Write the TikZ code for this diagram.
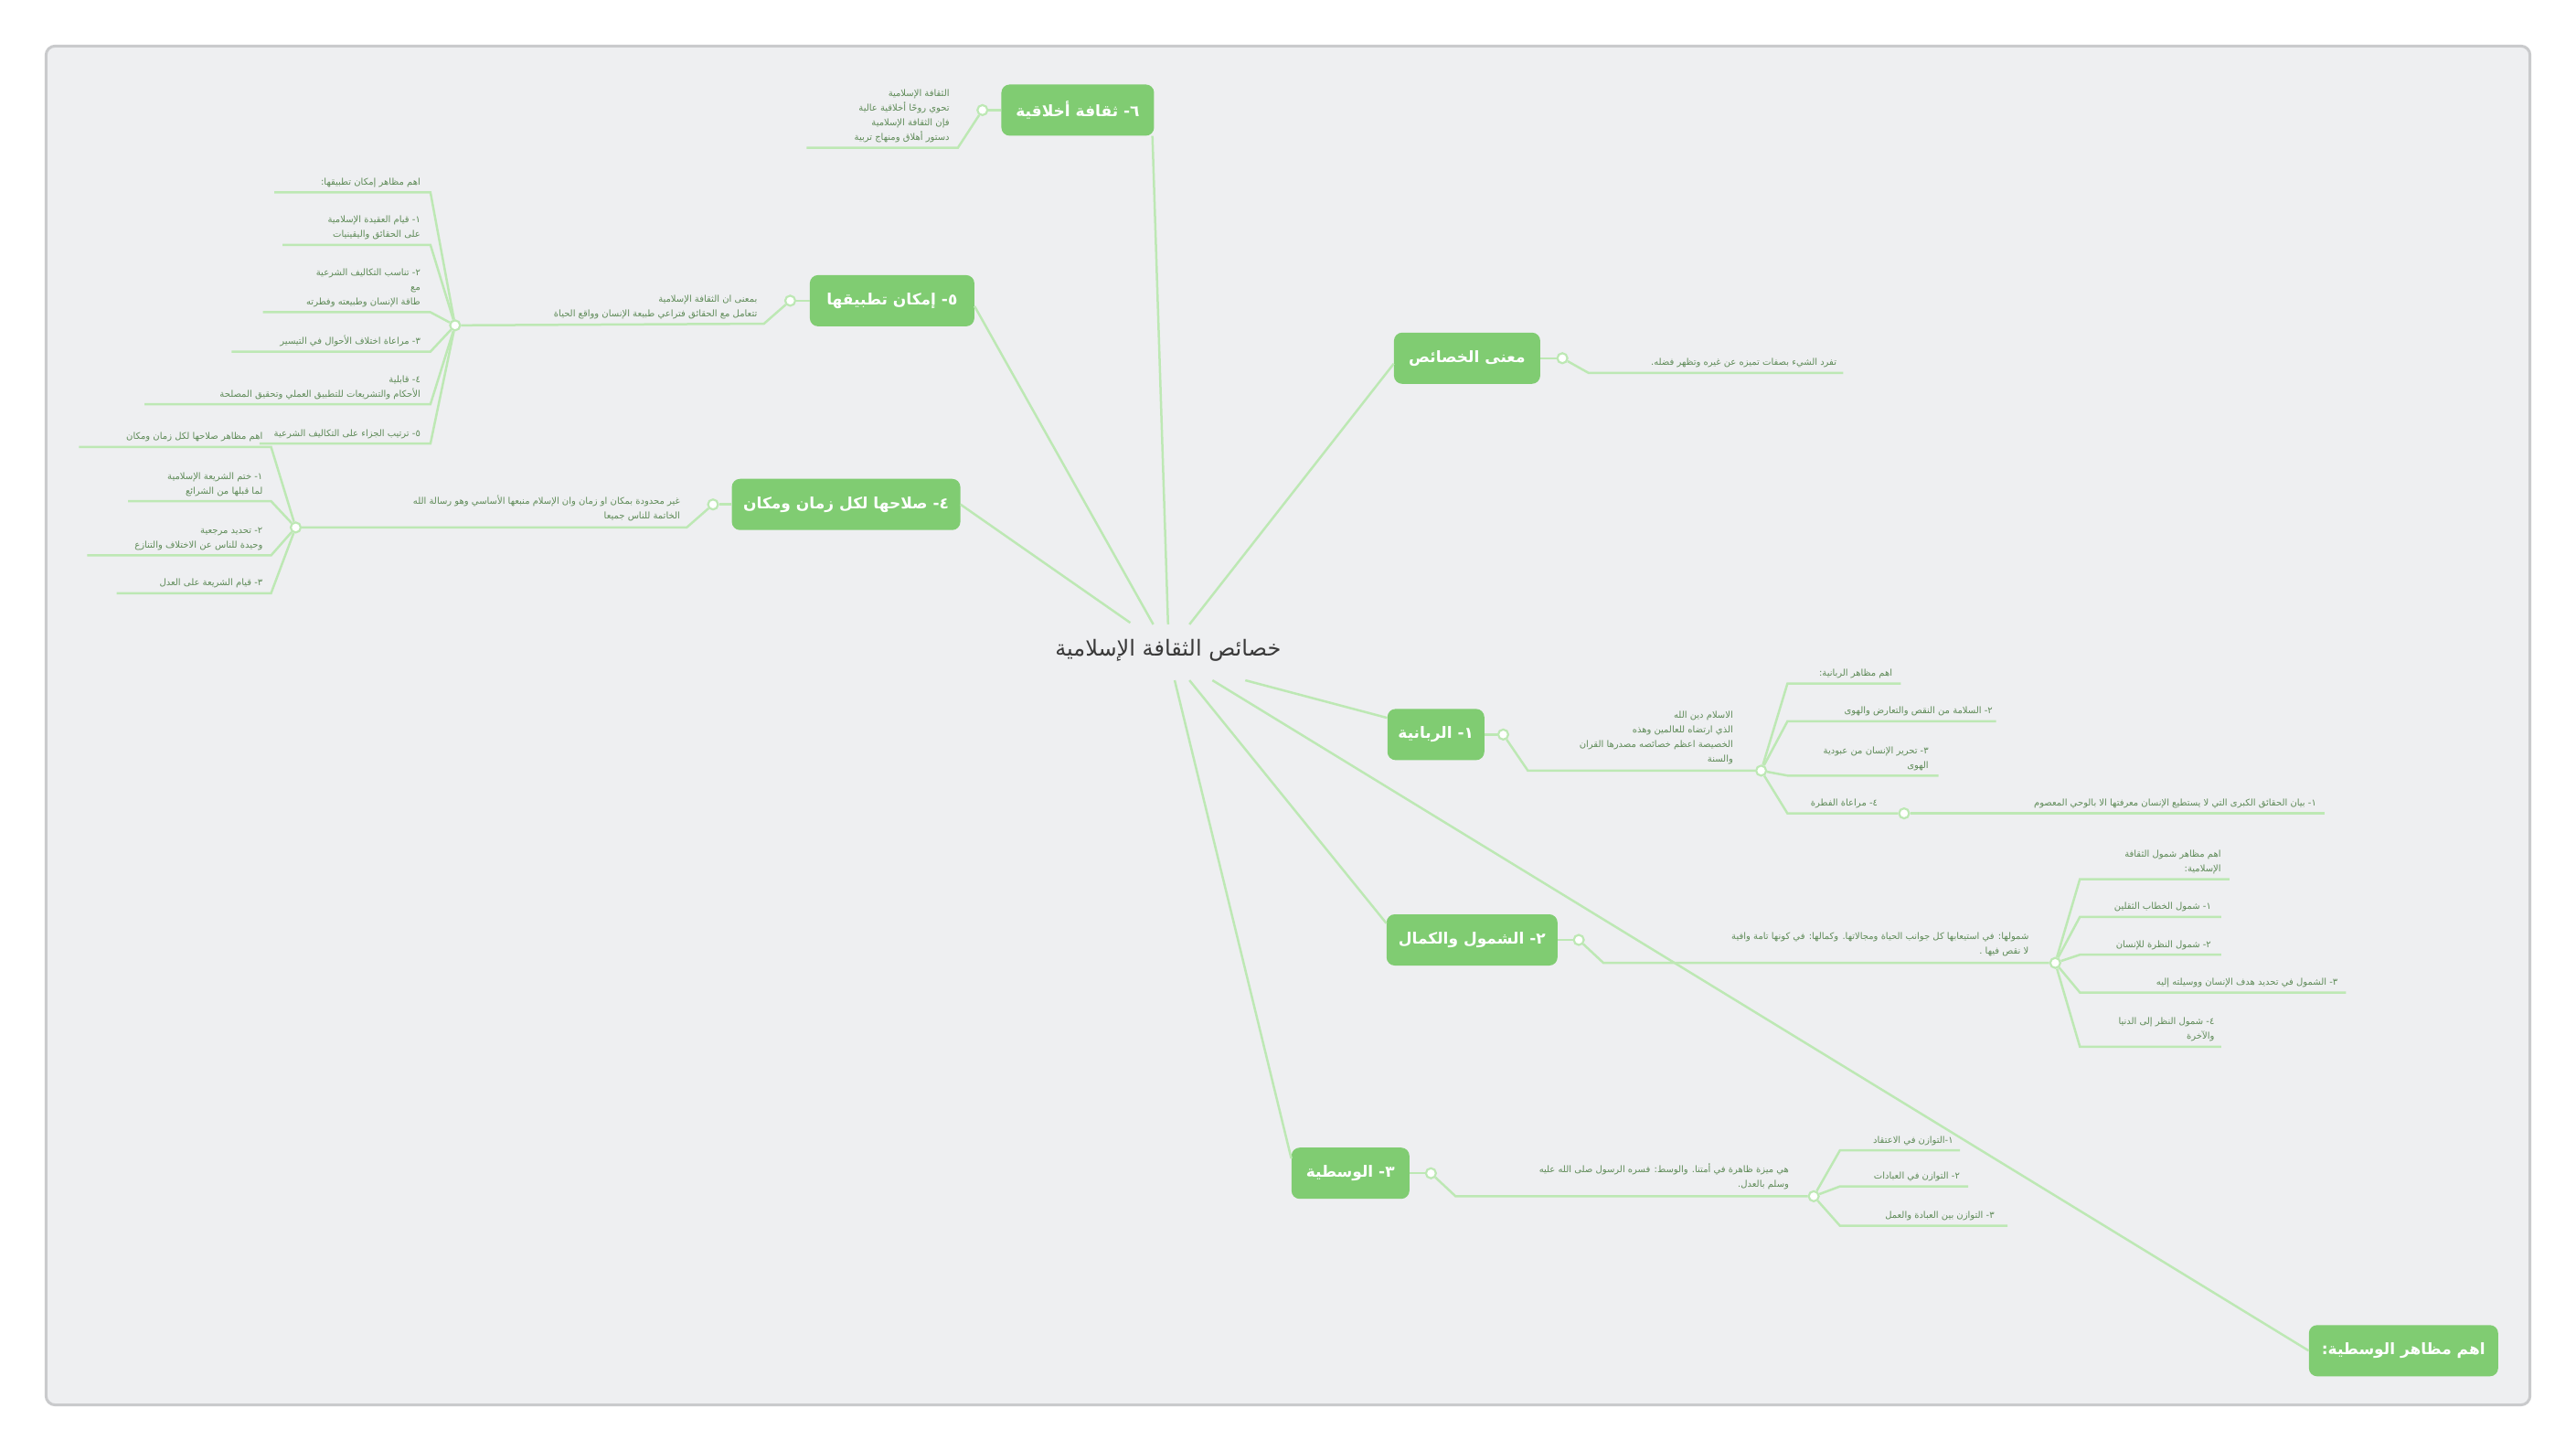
\documentclass[tikz,border=0pt]{standalone}
\usepackage{fontspec}
\TeXXeTstate=1
\newfontfamily\arabicfont[Script=Arabic]{DejaVu Sans}
\newcommand\ar[1]{{\arabicfont\beginR #1\endR}}
\definecolor{bg}{HTML}{EEEFF1}
\definecolor{frame}{HTML}{C9CACC}
\definecolor{boxg}{HTML}{80CC72}
\definecolor{lineg}{HTML}{BDE8B4}
\definecolor{txtg}{HTML}{5F8B58}
\definecolor{titlec}{HTML}{3A3A3A}
\tikzset{
  topic/.style={rounded corners=9pt, fill=boxg, text=white, minimum height=56pt, inner sep=0pt, font=\fontsize{17}{20}\selectfont\bfseries},
  small/.style={inner sep=0pt, align=right, text=txtg, font=\fontsize{10}{16}\selectfont},
  dot/.style={circle, draw=lineg, fill=white, line width=2.2pt, minimum size=11pt, inner sep=0pt},
  conn/.style={draw=lineg, line width=2.5pt},
}
\begin{document}
\begin{tikzpicture}[x=1.797pt,y=-1.797pt]
\useasboundingbox (0,0) rectangle (1568,883);
\fill[white] (0,0) rectangle (1568,883);
\draw[frame, fill=bg, line width=3pt, rounded corners=10pt] (28,28) rectangle (1540,855);

% title
\node[text=titlec, font=\fontsize{24}{28}\selectfont] (title) at (711,396) {\ar{خصائص الثقافة الإسلامية}};

% topic boxes
\node[topic, minimum width=167pt] (b6) at (656,67) {\ar{٦- ثقافة أخلاقية}};
\node[topic, minimum width=180pt] (b5) at (543,183) {\ar{٥- إمكان تطبيقها}};
\node[topic, minimum width=250pt] (b4) at (515,307) {\ar{٤- صلاحها لكل زمان ومكان}};
\node[topic, minimum width=160pt] (bm) at (893,218) {\ar{معنى الخصائص}};
\node[topic, minimum width=106pt] (b1) at (874,447) {\ar{١- الربانية}};
\node[topic, minimum width=187pt] (b2) at (896,572) {\ar{٢- الشمول والكمال}};
\node[topic, minimum width=129pt] (b3) at (822,714) {\ar{٣- الوسطية}};
\node[topic, minimum width=207pt] (bw) at (1463,822) {\ar{اهم مظاهر الوسطية:}};

% center connectors
\coordinate (c6) at (711,380);
\coordinate (c5) at (702,380);
\coordinate (c4) at (688,379);
\coordinate (cm) at (724,380);
\coordinate (c1) at (758,414);
\coordinate (c2) at (724,414);
\coordinate (c3) at (715,414);
\coordinate (cw) at (738,414);
\draw[conn] (c6) -- ([xshift=-2pt]b6.south east);
\draw[conn] (c5) -- ([yshift=-6pt]b5.east);
\draw[conn] (c4) -- (b4.east);
\draw[conn] (cm) -- ([yshift=-6pt]bm.west);
\draw[conn] (c1) -- ([yshift=-10pt]b1.north west);
\draw[conn] (c2) -- ([yshift=-10pt]b2.north west);
\draw[conn] (c3) -- ([yshift=-12pt]b3.north west);
\draw[conn] (cw) -- (bw.west);

% ===== group 6
\node[dot] (d6) at (598,67) {};
\draw[conn] (b6.west) -- (d6);
\draw[conn] (d6) -- (583,90) -- (491,90);
\node[small, anchor=south east] (t6) at (578,87) {\ar{الثقافة الإسلامية}\\\ar{تحوي روحًا أخلاقية عالية}\\\ar{فإن الثقافة الإسلامية}\\\ar{دستور أهلاق ومنهاج تربية}};

% ===== group 5
\node[dot] (d5) at (481,183) {};
\node[dot] (h5) at (277,198) {};
\draw[conn] (b5.west) -- (d5);
\draw[conn] (d5) -- (465,197) -- (h5);
\node[small, anchor=south east] (s5) at (461,194) {\ar{بمعنى ان الثقافة الإسلامية}\\\ar{تتعامل مع الحقائق فتراعي طبيعة الإنسان وواقع الحياة}};
\draw[conn] (h5) -- (262,117) -- (167,117);
\node[small, anchor=south east] (i50) at (256,114) {\ar{اهم مظاهر إمكان تطبيقها:}};
\draw[conn] (h5) -- (262,149) -- (172,149);
\node[small, anchor=south east] (i51) at (256,146) {\ar{١- قيام العقيدة الإسلامية}\\\ar{على الحقائق واليقينيات}};
\draw[conn] (h5) -- (262,190) -- (160,190);
\node[small, anchor=south east] (i52) at (256,187) {\ar{٢- تناسب التكاليف الشرعية}\\\ar{مع}\\\ar{طاقة الإنسان وطبيعته وفطرته}};
\draw[conn] (h5) -- (262,214) -- (141,214);
\node[small, anchor=south east] (i53) at (256,211) {\ar{٣- مراعاة اختلاف الأحوال في التيسير}};
\draw[conn] (h5) -- (262,246) -- (88,246);
\node[small, anchor=south east] (i54) at (256,243) {\ar{٤- قابلية}\\\ar{الأحكام والتشريعات للتطبيق العملي وتحقيق المصلحة}};
\draw[conn] (h5) -- (262,270) -- (158,270);
\node[small, anchor=south east] (i55) at (256,267) {\ar{٥- ترتيب الجزاء على التكاليف الشرعية}};

% ===== group 4
\node[dot] (d4) at (434,307) {};
\node[dot] (h4) at (180,321) {};
\draw[conn] (b4.west) -- (d4);
\draw[conn] (d4) -- (418,321) -- (h4);
\node[small, anchor=south east] (s4) at (414,317) {\ar{غير محدودة بمكان او زمان وان الإسلام منبعها الأساسي وهو رسالة الله}\\\ar{الخاتمة للناس جميعا}};
\draw[conn] (h4) -- (165,272) -- (48,272);
\node[small, anchor=south east] (i40) at (160,269) {\ar{اهم مظاهر صلاحها لكل زمان ومكان}};
\draw[conn] (h4) -- (165,305) -- (78,305);
\node[small, anchor=south east] (i41) at (160,302) {\ar{١- ختم الشريعة الإسلامية}\\\ar{لما قبلها من الشرائع}};
\draw[conn] (h4) -- (165,338) -- (53,338);
\node[small, anchor=south east] (i42) at (160,335) {\ar{٢- تحديد مرجعية}\\\ar{وحيدة للناس عن الاختلاف والتنازع}};
\draw[conn] (h4) -- (165,361) -- (71,361);
\node[small, anchor=south east] (i43) at (160,358) {\ar{٣- قيام الشريعة على العدل}};

% ===== group meaning
\node[dot] (dm) at (951,218) {};
\draw[conn] (bm.east) -- (dm);
\draw[conn] (dm) -- (967,227) -- (1122,227);
\node[small, anchor=south east] (sm) at (1118,224) {\ar{تفرد الشيء بصفات تميزه عن غيره وتظهر فضله.}};

% ===== group 1
\node[dot] (d1) at (915,447) {};
\node[dot] (h1) at (1072,469) {};
\draw[conn] (b1.east) -- (d1);
\draw[conn] (d1) -- (930,469) -- (h1);
\node[small, anchor=south east] (s1) at (1055,465) {\ar{الاسلام دين الله}\\\ar{الذي ارتضاه للعالمين وهذه}\\\ar{الخصيصة اعظم خصائصه مصدرها القران}\\\ar{والسنة}};
\draw[conn] (h1) -- (1088,416) -- (1157,416);
\node[small, anchor=south east] (i10) at (1152,413) {\ar{اهم مظاهر الربانية:}};
\draw[conn] (h1) -- (1088,439) -- (1215,439);
\node[small, anchor=south east] (i12) at (1213,436) {\ar{٢- السلامة من النقص والتعارض والهوى}};
\draw[conn] (h1) -- (1088,472) -- (1180,472);
\node[small, anchor=south east] (i13) at (1174,469) {\ar{٣- تحرير الإنسان من عبودية}\\\ar{الهوى}};
\node[dot] (d14) at (1159,495) {};
\draw[conn] (h1) -- (1088,495) -- (d14);
\draw[conn] (d14) -- (1415,495);
\node[small, anchor=south east] (i14) at (1143,492) {\ar{٤- مراعاة الفطرة}};
\node[small, anchor=south east] (i11) at (1410,492) {\ar{١- بيان الحقائق الكبرى التي لا يستطيع الإنسان معرفتها الا بالوحي المعصوم}};

% ===== group 2
\node[dot] (d2) at (961,572) {};
\node[dot] (h2) at (1251,586) {};
\draw[conn] (b2.east) -- (d2);
\draw[conn] (d2) -- (976,586) -- (h2);
\node[small, anchor=south east] (s2) at (1235,582) {\ar{شمولها: في استيعابها كل جوانب الحياة ومجالاتها. وكمالها: في كونها تامة وافية}\\\ar{لا نقص فيها .}};
\draw[conn] (h2) -- (1266,535) -- (1357,535);
\node[small, anchor=south east] (i20) at (1352,532) {\ar{اهم مظاهر شمول الثقافة}\\\ar{الإسلامية:}};
\draw[conn] (h2) -- (1266,558) -- (1352,558);
\node[small, anchor=south east] (i21) at (1346,555) {\ar{١- شمول الخطاب الثقلين}};
\draw[conn] (h2) -- (1266,581) -- (1352,581);
\node[small, anchor=south east] (i22) at (1346,578) {\ar{٢- شمول النظرة للإنسان}};
\draw[conn] (h2) -- (1266,604) -- (1428,604);
\node[small, anchor=south east] (i23) at (1423,601) {\ar{٣- الشمول في تحديد هدف الإنسان ووسيلته إليه}};
\draw[conn] (h2) -- (1266,637) -- (1352,637);
\node[small, anchor=south east] (i24) at (1348,634) {\ar{٤- شمول النظر إلى الدنيا}\\\ar{والآخرة}};

% ===== group 3
\node[dot] (d3) at (871,714) {};
\node[dot] (h3) at (1104,728) {};
\draw[conn] (b3.east) -- (d3);
\draw[conn] (d3) -- (886,728) -- (h3);
\node[small, anchor=south east] (s3) at (1089,724) {\ar{هي ميزة ظاهرة في أمتنا. والوسط: فسره الرسول صلى الله عليه}\\\ar{وسلم بالعدل.}};
\draw[conn] (h3) -- (1120,700) -- (1193,700);
\node[small, anchor=south east] (i31) at (1189,697) {\ar{١-التوازن في الاعتقاد}};
\draw[conn] (h3) -- (1120,722) -- (1198,722);
\node[small, anchor=south east] (i32) at (1193,719) {\ar{٢- التوازن في العبادات}};
\draw[conn] (h3) -- (1120,746) -- (1222,746);
\node[small, anchor=south east] (i33) at (1214,743) {\ar{٣- التوازن بين العبادة والعمل}};
\end{tikzpicture}
\end{document}
